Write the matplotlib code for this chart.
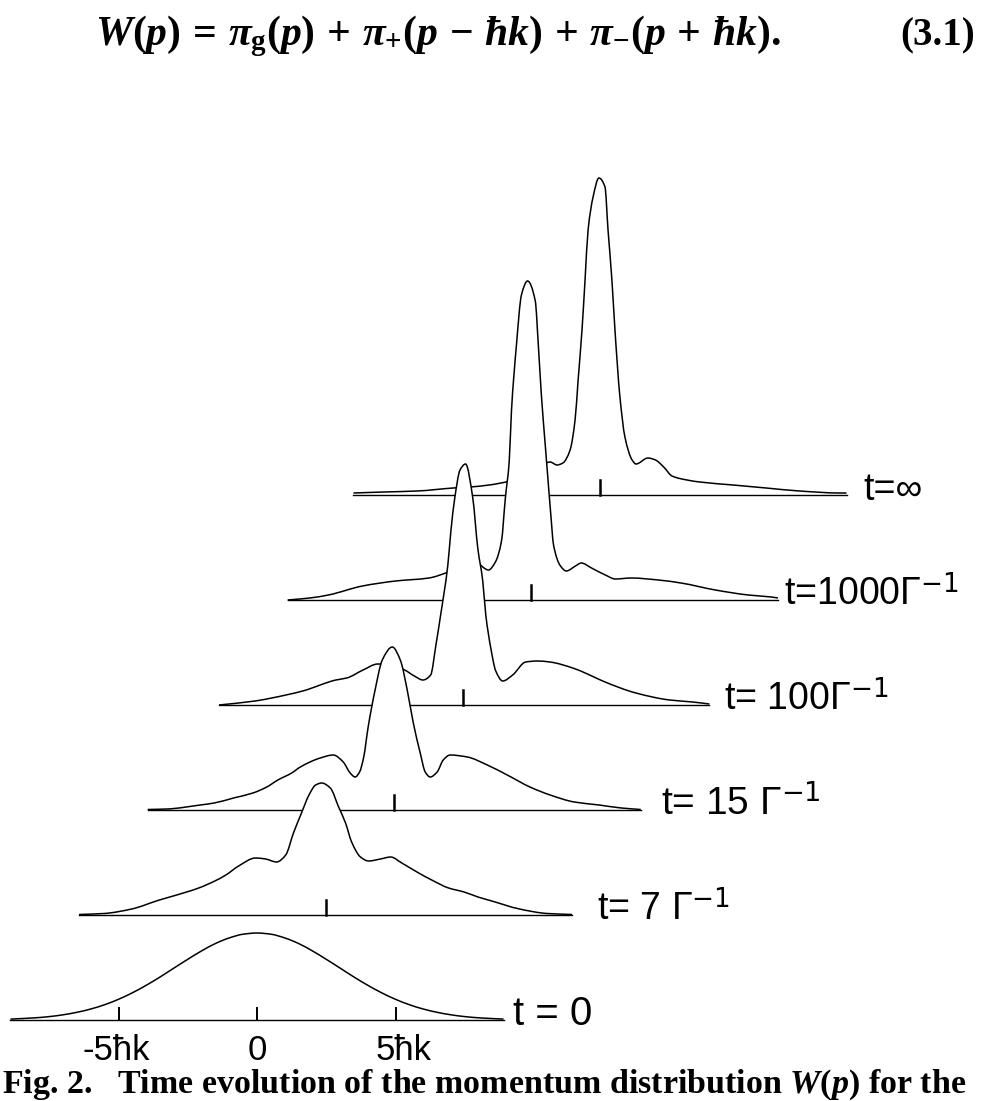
import numpy as np
import matplotlib
matplotlib.use('Agg')
import matplotlib.pyplot as plt
from matplotlib.path import Path
from matplotlib.patches import PathPatch

# ---------------- data (momentum p in units of hbar*k, W in arbitrary units) ----------------
LABELS = ['t = 0', 't= 7 Γ', 't= 15 Γ', 't= 100Γ', 't=1000Γ', 't=∞']
HAS_INVERSE = [False, True, True, True, True, False]

P_T0 = [-8.9, -8, -7.5, -7, -6.5, -6, -5.5, -5, -4.5, -4, -3.5, -3, -2.5, -2, -1.5, -1, -0.5, 0,
        0.5, 1, 1.5, 2, 2.5, 3, 3.5, 4, 4.5, 5, 5.5, 6, 6.5, 7, 7.5, 8, 8.9]
W_T0 = [0.9, 2.2, 3.4, 5.2, 7.7, 11, 15.3, 20.7, 27.2, 34.7, 43, 51.9, 60.7, 69.1, 76.5, 82.1, 85.8, 87,
        85.8, 82.1, 76.5, 69.1, 60.7, 51.9, 43, 34.7, 27.2, 20.7, 15.3, 11, 7.7, 5.2, 3.4, 2.2, 0.9]

P_T7 = [-8.9, -8, -7, -6, -5.5, -4.58, -4, -3.6, -3.14, -2.53, -2.17, -1.77, -1.44, -1.16, -0.87, -0.6,
        -0.36, -0.14, 0.17, 0.47, 0.72, 0.94, 1.26, 1.55, 1.98, 2.35, 2.75, 3.36, 3.83, 4.44, 5, 5.5, 6,
        7, 8, 8.9]
W_T7 = [0.5, 1.5, 6, 15, 19, 27, 34, 40, 49, 57, 56, 53, 60, 82, 102, 120,
        130, 132, 127, 108, 92, 73, 58, 54, 56, 58, 52, 42, 35, 27, 23, 18, 14,
        6, 1.5, 0.5]

P_T15 = [-8.9, -8.2, -7, -6.5, -5.8, -5.1, -4.6, -4.2, -3.7, -3.39, -2.67, -2.2, -1.84, -1.59, -1.41,
         -1.25, -1.1, -0.94, -0.69, -0.43, -0.07, 0.22, 0.47, 0.69, 0.94, 1.12, 1.3, 1.55, 1.77, 2.02,
         2.64, 3.36, 4.08, 4.9, 5.63, 6.5, 7.4, 8.2, 8.9]
W_T15 = [0.5, 1, 5, 7, 12, 17, 23, 30, 37, 43, 52, 55, 48, 37, 33,
         38, 53, 83, 120, 150, 163, 150, 120, 87, 57, 38, 33, 38, 50, 55,
         53, 45, 35, 23, 15, 8, 5, 2, 0.5]

P_T100 = [-8.8, -7.5, -6.9, -5.78, -4.58, -4.19, -3.6, -3.07, -2.6, -2.1, -1.75, -1.44, -1.16, -0.97,
          -0.8, -0.54, -0.43, -0.29, -0.1, 0.1, 0.36, 0.54, 0.72, 0.83, 1.01, 1.19, 1.44, 1.8, 2.27,
          2.7, 3.14, 3.97, 4.5, 5.05, 6.25, 7.47, 8.3, 8.9]
W_T100 = [0, 4, 7, 14, 25, 27, 35, 41, 40, 35, 29, 25, 30, 60,
          90, 140, 174, 207, 235, 241, 207, 157, 124, 90, 57, 34, 24, 30, 43,
          44, 43, 37, 31, 24, 12, 5, 3, 1]

P_T1000 = [-8.8, -8, -7.33, -6.1, -4.9, -3.7, -3.0, -2.5, -2.0, -1.55, -1.3, -1.08, -0.94, -0.8, -0.72,
           -0.54, -0.36, -0.14, 0.14, 0.25, 0.36, 0.5, 0.6, 0.69, 0.8, 1.05, 1.26, 1.59, 1.8, 2.17,
           2.67, 3.03, 3.6, 4.58, 5.4, 6.64, 7.83, 8.66, 8.9]
W_T1000 = [0, 2, 5, 14, 19, 22, 28, 34, 37, 30, 38, 59, 102, 139, 189,
           255, 305, 319, 299, 255, 205, 155, 120, 89, 55, 34, 29, 34, 37, 32,
           25, 21, 22, 20, 17, 10, 5, 3, 2]

P_TINF = [-8.9, -7.8, -6.6, -5.3, -4.69, -4, -3.25, -2.5, -1.8, -1.55, -1.34, -1.08, -0.9, -0.79, -0.65,
          -0.54, -0.43, -0.25, -0.04, 0.18, 0.29, 0.43, 0.54, 0.72, 0.9, 1.16, 1.3, 1.73, 2.0, 2.3,
          2.6, 3.14, 3.6, 4.8, 6.0, 7.2, 8.66, 8.9]
W_TINF = [2, 3, 4, 7, 8, 10, 14, 22, 33, 30, 32, 45, 75, 115, 165,
          215, 265, 298, 317, 308, 265, 215, 165, 98, 58, 35, 31, 37, 35, 28,
          19, 15, 13, 10, 7, 4, 2, 2]

P_CURVES = [P_T0, P_T7, P_T15, P_T100, P_T1000, P_TINF]
W_CURVES = [W_T0, W_T7, W_T15, W_T100, W_T1000, W_TINF]

TICK_VALUES = [-5, 0, 5]
TICK_LABELS = ['-5ħk', '0', '5ħk']

# ---------------- style / layout ----------------
plt.rcParams['mathtext.fontset'] = 'custom'
plt.rcParams['mathtext.rm'] = 'Liberation Serif:bold'
plt.rcParams['mathtext.it'] = 'Liberation Serif:italic:bold'
plt.rcParams['mathtext.bf'] = 'Liberation Serif:bold'
plt.rcParams['mathtext.sf'] = 'DejaVu Sans'

LABEL_FONT = ['Liberation Sans', 'DejaVu Sans']
PX = 27.7          # pixels per hbar*k
DX = 68.6 / PX     # horizontal shift per curve (in hbar*k)
DY = 105.0         # vertical shift per curve (W units)
LABEL_GAP_PX = [9, 25, 20, 15, 6, 17]
LABEL_SIZE = [29, 27, 28, 27, 27, 27]
TICK_LABEL_SHIFT_PX = [-2, 0, 8]


def smooth_vertices(x, y):
    """Cubic Bezier segments through the data points (monotone tangents, no overshoot)."""
    x = np.asarray(x, float)
    y = np.asarray(y, float)
    h = np.diff(x)
    d = np.diff(y) / h
    m = np.zeros_like(y)
    m[0], m[-1] = d[0], d[-1]
    for k in range(1, len(x) - 1):
        if d[k - 1] * d[k] <= 0:
            m[k] = 0.0
        else:
            w1 = 2 * h[k] + h[k - 1]
            w2 = h[k] + 2 * h[k - 1]
            m[k] = (w1 + w2) / (w1 / d[k - 1] + w2 / d[k])
    verts = [(x[0], y[0])]
    codes = [Path.MOVETO]
    for k in range(len(x) - 1):
        verts += [(x[k] + h[k] / 3, y[k] + m[k] * h[k] / 3),
                  (x[k + 1] - h[k] / 3, y[k + 1] - m[k + 1] * h[k] / 3),
                  (x[k + 1], y[k + 1])]
        codes += [Path.CURVE4] * 3
    return verts, codes


W_PX, H_PX = 994, 1101
fig = plt.figure(figsize=(W_PX / 100, H_PX / 100), dpi=100)
ax = fig.add_axes([0, 0, 1, 1])
xmin = -257 / PX
ax.set_xlim(xmin, xmin + W_PX / PX)
ax.set_ylim(-(H_PX - 1020), 1020)
ax.axis('off')

n = len(P_CURVES)
for i in range(n - 1, -1, -1):
    p = np.asarray(P_CURVES[i]) + DX * i
    w = np.asarray(W_CURVES[i]) + DY * i
    base = DY * i
    z = 10 + 3 * (n - 1 - i)
    verts, codes = smooth_vertices(p, w)
    fill_path = Path(verts + [(p[-1], base), (p[0], base), (p[0], base)],
                     codes + [Path.LINETO, Path.LINETO, Path.CLOSEPOLY])
    ax.add_patch(PathPatch(fill_path, facecolor='white', edgecolor='none', zorder=z))
    ax.plot([p[0], p[-1]], [base, base], color='black', lw=1.0, zorder=z + 1)
    ax.add_patch(PathPatch(Path(verts, codes), facecolor='none', edgecolor='black',
                           lw=1.1, zorder=z + 1))
    if i == 0:
        for tv in TICK_VALUES:
            ax.plot([tv, tv], [base, base + 12], color='black', lw=1.4, zorder=z + 1)
    else:
        ax.plot([DX * i, DX * i], [base, base + 15], color='black', lw=1.8, zorder=z + 1)
    txt = LABELS[i] + (r'$^{\mathsf{-1}}$' if HAS_INVERSE[i] else '')
    ax.text(p[-1] + LABEL_GAP_PX[i] / PX, base - 5, txt, ha='left', va='baseline',
            fontsize=LABEL_SIZE[i], family=LABEL_FONT, zorder=50)

for tv, tl, sh in zip(TICK_VALUES, TICK_LABELS, TICK_LABEL_SHIFT_PX):
    ax.text(tv + sh / PX, -30, tl, ha='center', va='center', fontsize=25, family=LABEL_FONT)

# equation above and caption below (page context)
eq = (r'$W(p)\,=\,\pi_{\mathrm{g}}(p)\,+\,\pi_{+}(p\,-\,ħk)\,+\,'
      r'\pi_{-}(p\,+\,ħk).$')
fig.text(95 / W_PX, 1 - 45 / H_PX, eq, fontsize=30, ha='left', va='baseline')
fig.text(900 / W_PX, 1 - 45 / H_PX, '(3.1)', fontsize=28, ha='left', va='baseline',
         family='Liberation Serif', fontweight='bold')
fig.text(2 / W_PX, 1 - 1068 / H_PX,
         r'Fig. 2.   Time evolution of the momentum distribution $W$($p$) for the',
         fontsize=24.5, ha='left', va='top', family='Liberation Serif', fontweight='bold')

fig.savefig('out.png', dpi=100, facecolor='white')
